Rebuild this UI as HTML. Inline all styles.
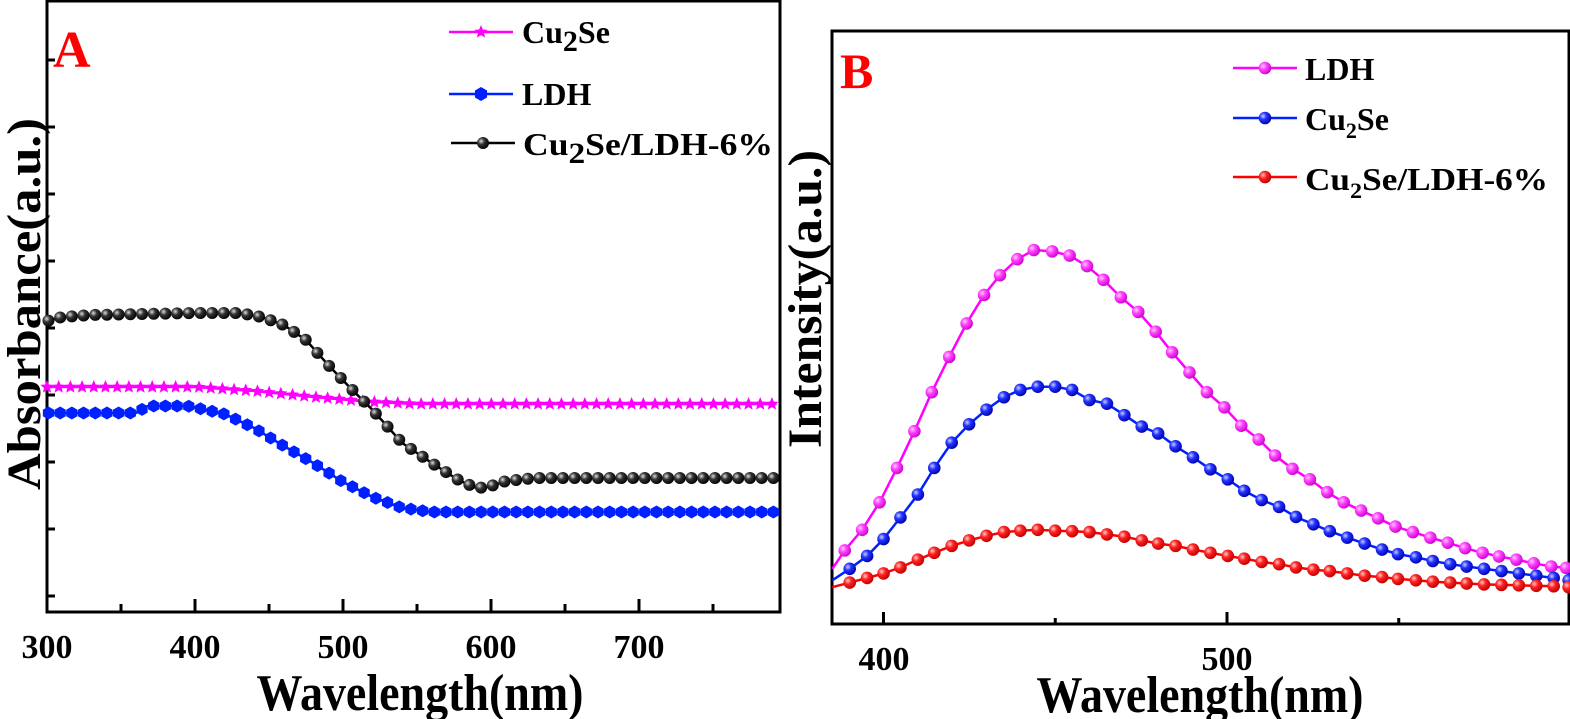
<!DOCTYPE html>
<html><head><meta charset="utf-8"><style>
html,body{margin:0;padding:0;background:#fff;width:1570px;height:719px;overflow:hidden}
svg text{font-family:"Liberation Serif",serif;font-weight:bold}
</style></head><body>
<svg id="s" width="1570" height="719" viewBox="0 0 1570 719" xmlns="http://www.w3.org/2000/svg">
<defs>
<radialGradient id="gk" cx="0.35" cy="0.35" r="0.7"><stop offset="0" stop-color="#ddd"/><stop offset="0.4" stop-color="#333"/><stop offset="1" stop-color="#000"/></radialGradient>
<radialGradient id="gm" cx="0.35" cy="0.35" r="0.7"><stop offset="0" stop-color="#fcf"/><stop offset="0.4" stop-color="#f4f"/><stop offset="1" stop-color="#c0c"/></radialGradient>
<radialGradient id="gb" cx="0.35" cy="0.35" r="0.7"><stop offset="0" stop-color="#ccf"/><stop offset="0.4" stop-color="#23f"/><stop offset="1" stop-color="#00a"/></radialGradient>
<radialGradient id="gr" cx="0.35" cy="0.35" r="0.7"><stop offset="0" stop-color="#fcc"/><stop offset="0.4" stop-color="#f22"/><stop offset="1" stop-color="#b00"/></radialGradient>
</defs>
<!-- Panel A -->
<rect x="47" y="1" width="733" height="611" fill="none" stroke="#000" stroke-width="3"/>
<g id="aticks" stroke="#000" stroke-width="3"></g>
<g font-size="34" text-anchor="middle">
<text x="47" y="658">300</text><text x="195" y="658">400</text><text x="343" y="658">500</text><text x="491" y="658">600</text><text x="639" y="658">700</text>
</g>
<text x="420" y="710" font-size="52" text-anchor="middle" textLength="327" lengthAdjust="spacingAndGlyphs">Wavelength(nm)</text>
<text transform="translate(40,304) rotate(-90)" font-size="48" text-anchor="middle" textLength="372" lengthAdjust="spacingAndGlyphs">Absorbance(a.u.)</text>
<text x="53" y="67" font-size="52" fill="#f00">A</text>
<g id="A"></g>
<g font-size="32">
<text x="522" y="43">Cu<tspan font-size="30" dy="8">2</tspan><tspan dy="-8">Se</tspan></text>
<text x="522" y="105">LDH</text>
<text x="523" y="155" textLength="250" lengthAdjust="spacingAndGlyphs">Cu<tspan font-size="30" dy="8">2</tspan><tspan dy="-8">Se/LDH-6%</tspan></text>
</g>
<!-- Panel B -->
<rect x="832" y="31" width="737" height="593" fill="none" stroke="#000" stroke-width="3"/>
<g id="bticks" stroke="#000" stroke-width="3"></g>
<g font-size="34" text-anchor="middle"><text x="884" y="670">400</text><text x="1227" y="670">500</text></g>
<text x="1200" y="712" font-size="52" text-anchor="middle" textLength="327" lengthAdjust="spacingAndGlyphs">Wavelength(nm)</text>
<text transform="translate(821,299) rotate(-90)" font-size="48" text-anchor="middle" textLength="298" lengthAdjust="spacingAndGlyphs">Intensity(a.u.)</text>
<text x="840" y="88" font-size="50" fill="#f00">B</text>
<g id="B"></g>
<g font-size="32">
<text x="1305" y="80">LDH</text>
<text x="1305" y="130">Cu<tspan font-size="22" dy="8">2</tspan><tspan dy="-8">Se</tspan></text>
<text x="1305" y="190" textLength="243" lengthAdjust="spacingAndGlyphs">Cu<tspan font-size="22" dy="8">2</tspan><tspan dy="-8">Se/LDH-6%</tspan></text>
</g>
</svg>
<script>
var NS="http://www.w3.org/2000/svg";
function el(p,t,a){var e=document.createElementNS(NS,t);for(var k in a)e.setAttribute(k,a[k]);p.appendChild(e);return e;}
function interp(pts,x){if(x<=pts[0][0])return pts[0][1];for(var i=1;i<pts.length;i++){if(x<=pts[i][0]){var a=pts[i-1],b=pts[i];return a[1]+(b[1]-a[1])*(x-a[0])/(b[0]-a[0]);}}return pts[pts.length-1][1];}
function star(p,x,y,r,c){var s="";for(var i=0;i<10;i++){var rr=i%2?r*0.45:r;var an=-Math.PI/2+i*Math.PI/5;s+=(x+rr*Math.cos(an))+","+(y+rr*Math.sin(an))+" ";}el(p,"polygon",{points:s,fill:c});}
function hex(p,x,y,r,c){var s="";for(var i=0;i<6;i++){var an=Math.PI/6+i*Math.PI/3;s+=(x+r*Math.cos(an))+","+(y+r*Math.sin(an))+" ";}el(p,"polygon",{points:s,fill:c});}
function ball(p,x,y,r,g){el(p,"circle",{cx:x,cy:y,r:r,fill:"url(#"+g+")"});}
var at=document.getElementById("aticks");
for(var n=300;n<=795;n+=50){var x=47+(n-300)*1.48;if(x<50||x>778)continue;el(at,"line",{x1:x,y1:612,x2:x,y2:n%100?604:599});}
for(var y=60;y<600;y+=67){el(at,"line",{x1:47,y1:y,x2:55,y2:y});}
var bt=document.getElementById("bticks");
for(var n=400;n<=599;n+=50){var x=883.5+(n-400)*3.435;el(bt,"line",{x1:x,y1:624,x2:x,y2:n%100?618:612});}
var A=document.getElementById("A");
function X(n){return 47+(n-300)*1.48;}
var blk=[[300,321],[310,317],[330,315],[400,313],[430,313],[445,317],[460,325],[475,340],[490,365],[505,388],[520,410],[540,443],[560,463],[578,480],[590,488],[598,487],[610,481],[630,478],[795,478]];
var pink=[[300,387],[400,387],[440,391],[480,397],[520,402],[550,404],[795,404]];
var blue=[[300,413],[360,413],[368,406],[395,406],[420,414],[440,428],[460,446],[480,463],[500,482],[520,497],[540,508],[560,512],[795,512]];
function series(p,pts,x0,x1,step,col,mk){var d="";for(var n=x0;n<=x1+0.01;n+=0.5){d+=(d?"L":"M")+X(n).toFixed(1)+","+interp(pts,n).toFixed(1);}el(p,"path",{d:d,fill:"none",stroke:col,"stroke-width":2.5});for(var n=x0;n<=x1+0.01;n+=step){mk(X(n),interp(pts,n));}}
series(A,pink,300,793,7.9,"#f0f",function(x,y){star(A,x,y,7,"#f0f");});
series(A,blue,301,793,7.9,"#0020ff",function(x,y){hex(A,x,y,6.5,"#0020ff");});
series(A,blk,301,793,7.9,"#000",function(x,y){ball(A,x,y,6,"gk");});
el(A,"line",{x1:449,y1:32,x2:513,y2:32,stroke:"#f0f","stroke-width":2.5});star(A,481,32,7,"#f0f");
el(A,"line",{x1:449,y1:94,x2:513,y2:94,stroke:"#0020ff","stroke-width":2.5});hex(A,481,94,7,"#0020ff");
el(A,"line",{x1:451,y1:143,x2:515,y2:143,stroke:"#000","stroke-width":2.5});ball(A,483,143,6,"gk");
var B=document.getElementById("B");
function cv(a){return a.map(function(p){return [790+p[0]/2.01,p[1]/2.18];});}
var L=cv([[85,1240],[110,1200],[145,1155],[180,1095],[215,1020],[250,940],[285,855],[320,778],[355,705],[390,643],[422,600],[457,565],[490,545],[527,548],[562,557],[597,580],[630,610],[665,648],[700,680],[735,723],[768,768],[803,812],[838,855],[873,888],[907,928],[942,958],[975,993],[1010,1022],[1045,1045],[1080,1073],[1113,1095],[1148,1113],[1182,1130],[1217,1148],[1252,1160],[1287,1172],[1322,1183],[1357,1195],[1392,1205],[1425,1213],[1460,1220],[1495,1228],[1530,1235],[1560,1238]]);
var C=cv([[85,1265],[120,1240],[155,1212],[188,1175],[222,1128],[257,1078],[290,1020],[325,965],[360,925],[395,893],[430,866],[463,850],[498,843],[533,843],[567,850],[602,872],[637,880],[672,905],[707,930],[740,945],[775,973],[810,997],[845,1023],[880,1045],[913,1070],[948,1090],[983,1105],[1017,1127],[1052,1143],[1085,1158],[1120,1172],[1155,1185],[1190,1198],[1222,1208],[1258,1215],[1292,1223],[1327,1230],[1360,1235],[1395,1240],[1430,1245],[1465,1250],[1500,1255],[1535,1260],[1565,1265]]);
var R=cv([[85,1280],[120,1270],[155,1260],[188,1250],[222,1237],[257,1220],[290,1205],[325,1190],[360,1178],[395,1168],[430,1160],[463,1157],[498,1155],[533,1157],[567,1158],[602,1160],[637,1165],[672,1170],[707,1178],[740,1185],[775,1190],[810,1198],[845,1205],[880,1212],[913,1218],[948,1225],[983,1230],[1017,1237],[1052,1242],[1085,1245],[1120,1250],[1155,1255],[1190,1258],[1222,1262],[1258,1265],[1292,1268],[1327,1270],[1360,1272],[1395,1274],[1430,1275],[1465,1276],[1500,1277],[1535,1278],[1565,1280]]);
function bser(pts,col,g){var d="";pts.forEach(function(p,i){if(p[0]>1568)return;d+=(i?"L":"M")+p[0].toFixed(1)+","+p[1].toFixed(1);});el(B,"path",{d:d,fill:"none",stroke:col,"stroke-width":2.5});pts.forEach(function(p,i){if(i==0&&p[0]<834)return;ball(B,p[0],p[1],6.3,g);});}
bser(L,"#f0f","gm");bser(C,"#0020ff","gb");bser(R,"#f00","gr");
[[68,"#f0f","gm"],[118,"#0020ff","gb"],[177,"#f00","gr"]].forEach(function(r){el(B,"line",{x1:1233,y1:r[0],x2:1297,y2:r[0],stroke:r[1],"stroke-width":2.5});ball(B,1265,r[0],6.3,r[2]);});
</script>
</body></html>
